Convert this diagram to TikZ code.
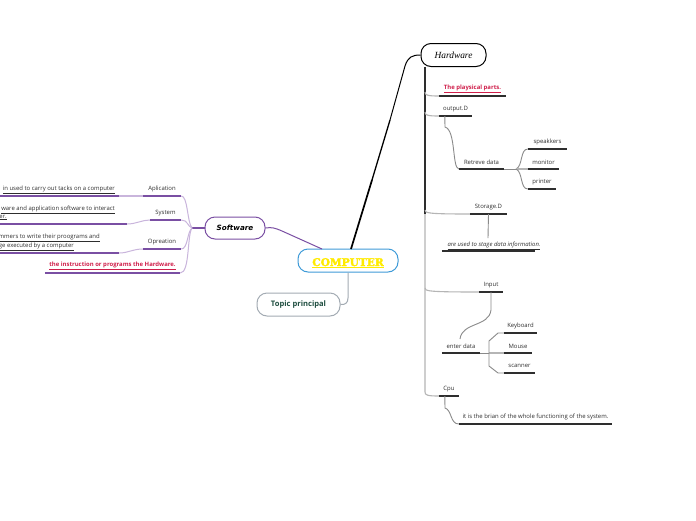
\documentclass[tikz,border=0pt]{standalone}
\usepackage{fontspec}
\setmainfont{Open Sans}
\newfontfamily\slabfont[BoldFont={DejaVu Serif Bold},BoldFeatures={FakeBold=2.5}]{DejaVu Serif}
\newfontfamily\serfont{Liberation Serif}
\newfontfamily\heavyfont[BoldFeatures={FakeBold=1.5}]{DejaVu Sans}
\usetikzlibrary{calc}
\definecolor{purp}{HTML}{7A4FA3}
\definecolor{lilac}{HTML}{C9B5DC}
\definecolor{sky}{HTML}{3F9BD8}
\definecolor{topicg}{HTML}{A3ABB3}
\definecolor{pine}{HTML}{1E4D3F}
\definecolor{ink}{HTML}{2E2E2E}
\definecolor{midg}{HTML}{8A8A8A}
\definecolor{lightg}{HTML}{B5B5B5}
\definecolor{crim}{HTML}{D01F4B}
\definecolor{sun}{HTML}{FFEB00}
\tikzset{
  leaf/.style={inner sep=0pt,minimum height=13.5pt,font=\fontsize{5.95}{7}\selectfont,text=ink},
  note/.style={inner sep=0pt,font=\fontsize{5.95}{7}\selectfont,text=ink},
  pill/.style={draw,rounded corners=10pt,fill=white,inner sep=0pt,line width=1pt},
  ulp/.style={purp,line width=1.5pt},
  ulk/.style={ink,line width=1.4pt},
  plink/.style={purp,line width=1pt},
  llink/.style={lilac,line width=1pt},
  glink/.style={midg,line width=.9pt},
  lglink/.style={lightg,line width=1.1pt}
}
\newcommand\leaf[6]{\node[leaf,anchor=south,minimum width={(#3-#2)*1pt}] (#1) at ({(#2+#3)/2},#4) {#6};
  \draw[#5] (#1.south west) -- (#1.south east);}
\begin{document}
\begin{tikzpicture}[x=1pt,y=-1pt]
\useasboundingbox (0,0) rectangle (696,520);
\fill[white] (0,0) rectangle (696,520);
% pills
\node[pill,draw=sky,minimum width=100pt,minimum height=23pt] (comp) at (348,260.5)
  {\raisebox{0pt}[11pt][0pt]{\slabfont\bfseries\fontsize{10.6}{12}\selectfont\color{sun}\underline{COMPUTER}}};
\node[pill,draw=topicg,minimum width=83pt,minimum height=23pt] (topic) at (298.5,304.5)
  {\bfseries\fontsize{7.6}{9}\selectfont\color{pine}Topic principal};
\node[pill,draw=purp,minimum width=60pt,minimum height=22pt] (soft) at (235,228)
  {\heavyfont\bfseries\itshape\fontsize{7.2}{9}\selectfont Software};
\node[pill,draw=black,minimum width=65pt,minimum height=23pt] (hard) at (453.5,55)
  {\serfont\itshape\fontsize{9.4}{11}\selectfont Hardware};
% main links
\draw[topicg,line width=1pt] (comp.south) -- (348,298) .. controls (348,303) and (345,305) .. (topic.east);
\draw[plink] (soft.east) .. controls (272,227) and (275,228) .. (282,231) -- (322,249);
\coordinate (compTop) at (351,249);
\draw[black,line width=1.7pt] (compTop) -- (372,180);
\draw[black,line width=1.3pt] (372,180) -- (390,120);
\draw[black,line width=1pt] (390,120) -- (405,66) .. controls (408,57) and (412,55) .. (hard.west);
% Software side
\coordinate (sj) at (192,228);
\draw[plink,line width=1.3pt] (soft.west) -- (sj);
\leaf{apl}{143}{181}{196}{ulp}{Aplication}
\leaf{sys}{150}{181}{220}{ulp}{System}
\leaf{ope}{143}{181}{249}{ulp}{Opreation}
\leaf{red}{45}{180}{273}{ulp}{\bfseries\color{crim}\underline{the instruction or programs the Hardware.}}
\leaf{aplT}{0}{119}{196}{ulp}{}
\leaf{sysT}{0}{127}{224}{ulp}{}
\leaf{opeT}{0}{119}{253}{ulp}{}
\draw[llink] (sj) .. controls (187,222) and (188,196) .. (apl.south east);
\draw[llink] (sj) .. controls (187,226) and (188,220) .. (sys.south east);
\draw[llink] (sj) .. controls (187,232) and (188,249) .. (ope.south east);
\draw[llink] (sj) .. controls (187,235) and (190,273) .. (red.south east);
\draw[llink,line width=1.4pt] (apl.south west) -- (aplT.south east);
\draw[llink] (sys.south west) .. controls (142,220) and (136,224) .. (sysT.south east);
\draw[llink] (ope.south west) .. controls (133,249) and (128,253) .. (opeT.south east);
\node[note,anchor=east] (t1) at (115,189.5) {\underline{in used to carry out tacks on a computer}};
\node[note,anchor=east] (t2) at (115,209.5) {\underline{ware and application software to interact}};
\node[note,anchor=east] (t3) at (7,217.5) {\underline{er.}};
\node[note,anchor=east] (t4) at (100,237.5) {\underline{mmers to write their proograms and}};
\node[note,anchor=east] (t5) at (74,246.5) {\underline{ge executed by a computer}};
% Hardware side
\coordinate (trunkA) at (425,67);
\coordinate (trunkB) at (425,214);
\draw[ink,line width=1.8pt] (trunkA) -- (trunkB);
\leaf{phys}{439}{506}{96}{ulk}{\bfseries\color{crim}\underline{The playsical parts.}}
\leaf{outp}{439}{472}{116}{ulk}{output.D}
\leaf{retr}{459}{504}{169}{ulk}{Retreve data}
\leaf{spk}{528}{567}{149}{ulk}{speakkers}
\leaf{mon}{528}{559}{169}{ulk}{monitor}
\leaf{prn}{528}{556}{189}{ulk}{printer}
\leaf{stor}{470}{507}{214}{ulk}{Storage.D}
\leaf{used}{442}{535}{251}{ulk}{}
\node[note,anchor=center] (usedT) at (494,245.5) {\itshape\underline{are used to stage data information.}};
\leaf{inp}{479}{503}{292}{ulk}{Input}
\leaf{ent}{442}{480}{353}{ulk}{enter data}
\leaf{key}{504}{537}{333}{ulk}{Keyboard}
\leaf{mou}{504}{532}{353}{ulk}{Mouse}
\leaf{sca}{504}{535}{373}{ulk}{scanner}
\leaf{cpu}{439}{459}{396}{ulk}{Cpu}
\leaf{bri}{459}{612}{424}{ulk}{it is the brian of the whole functioning of the system.}
\draw[lglink] (trunkB) -- (425,392) .. controls (425,395) and (427,396) .. (cpu.south west);
\draw[lglink] (425,92) .. controls (425,95) and (427,96) .. (phys.south west);
\draw[lglink] (425,112) .. controls (425,115) and (427,116) .. (outp.south west);
\draw[lglink] (425,210) .. controls (425,213) and (427,214) .. (stor.south west);
\draw[lglink] (425,288) .. controls (425,291) and (427,292) .. (inp.south west);
\draw[glink] ($(outp.south west)+(6,0)$) -- (445,127) .. controls (456,130) and (452,168) .. (retr.south west);
\coordinate (rj) at (516,169);
\draw[glink] (retr.south east) -- (rj);
\draw[glink] (rj) .. controls (523,166) and (520,149) .. (spk.south west);
\draw[lglink] (rj) -- (mon.south west);
\draw[glink] (rj) .. controls (523,172) and (520,189) .. (prn.south west);
\draw[glink] (stor.south) -- (488,238);
\draw[glink] (inp.south) -- (491,310) .. controls (489,327) and (462,322) .. (460,339);
\coordinate (ej) at (489,353);
\draw[glink] (ent.south east) -- (ej);
\draw[lglink] (ej) -- (mou.south west);
\draw[glink] (ej) -- (489,341) -- (498,333) -- (key.south west);
\draw[glink] (ej) -- (489,366) -- (498,373) -- (sca.south west);
\draw[glink] ($(cpu.south west)+(6,0)$) -- (445,408) .. controls (452,410) and (450,424) .. (bri.south west);
\end{tikzpicture}
\end{document}
